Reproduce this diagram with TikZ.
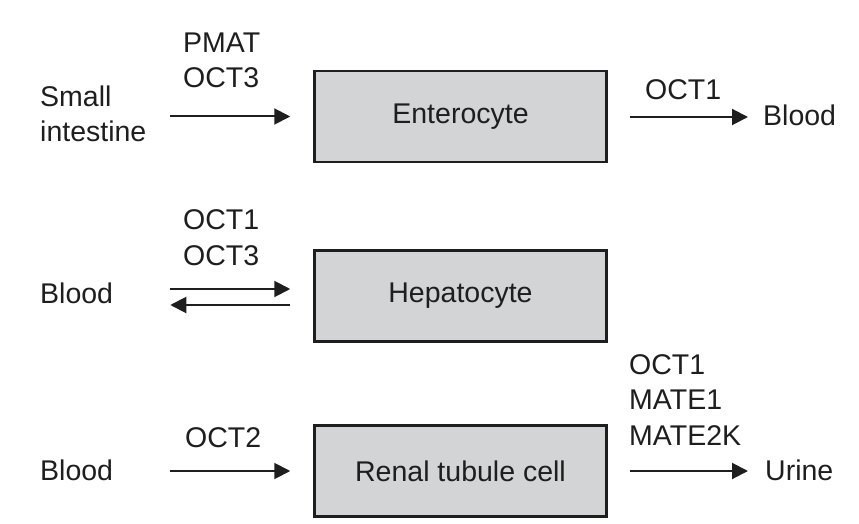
\documentclass[tikz,border=0pt]{standalone}
\usepackage{fontspec}
\setmainfont{Liberation Sans}
\usetikzlibrary{arrows.meta}
\definecolor{cellgray}{RGB}{211,212,214}
\definecolor{ink}{RGB}{30,30,30}

\begin{document}
\begin{tikzpicture}[x=1pt, y=-1pt,
    every node/.style={font=\fontsize{28.5}{35.5}\selectfont, text=ink, inner sep=0pt},
    cell/.style={draw=ink, fill=cellgray, line width=2.5pt, minimum width=292pt, minimum height=91pt},
    flow/.style={draw=ink, line width=2pt, -{Triangle[length=16pt, width=16pt]}}]
    \useasboundingbox (0,0) rectangle (859,524);
    % the three cells
    \node[cell] (ent) at (460.5,116.5) {Enterocyte};
    \node[cell] (hep) at (460.5,296) {Hepatocyte};
    \node[cell] (ren) at (460.5,471) {Renal tubule cell};
    % sources and sinks
    \node[anchor=base west, align=left] (gut) at (40,142) {Small\\intestine};
    \node[anchor=base west] (bl1) at (763,125) {Blood};
    \node[anchor=base west] (bl2) at (40,303) {Blood};
    \node[anchor=base west] (bl3) at (40,480) {Blood};
    \node[anchor=base west] (uri) at (765,480) {Urine};
    % transporters
    \node[anchor=base west, align=left] (tr1) at (183,88) {PMAT\\OCT3};
    \node[anchor=base west] (tr2) at (645,100) {OCT1};
    \node[anchor=base west, align=left] (tr3) at (183,265) {OCT1\\OCT3};
    \node[anchor=base west] (tr4) at (185,447) {OCT2};
    \node[anchor=base west, align=left] (tr5) at (629,445) {OCT1\\MATE1\\MATE2K};
    % arrow ends, kept clear of the cells
    \coordinate (a1) at ([xshift=-143pt]ent.west);
    \coordinate (b1) at ([xshift=-23pt]ent.west);
    \coordinate (c1) at ([xshift=22pt,yshift=-0.5pt]ent.east);
    \coordinate (a2) at ([xshift=-143pt,yshift=7pt]hep.west);
    \coordinate (b2) at ([xshift=-23pt,yshift=7pt]hep.west);
    \coordinate (a3) at ([xshift=-143pt,yshift=-9pt]hep.west);
    \coordinate (b3) at ([xshift=-23pt,yshift=-9pt]hep.west);
    \coordinate (a4) at ([xshift=-143pt]ren.west);
    \coordinate (b4) at ([xshift=-23pt]ren.west);
    \coordinate (c4) at ([xshift=22pt]ren.east);
    \draw[flow] (c1) -- ([xshift=-15pt]bl1.west |- c1);
    \draw[flow] (a1) -- (b1);
    \draw[flow] (a2) -- (b2);
    \draw[flow] (b3) -- (a3);
    \draw[flow] (a4) -- (b4);
    \draw[flow] (c4) -- ([xshift=-17pt]uri.west |- c4);
\end{tikzpicture}
\end{document}
